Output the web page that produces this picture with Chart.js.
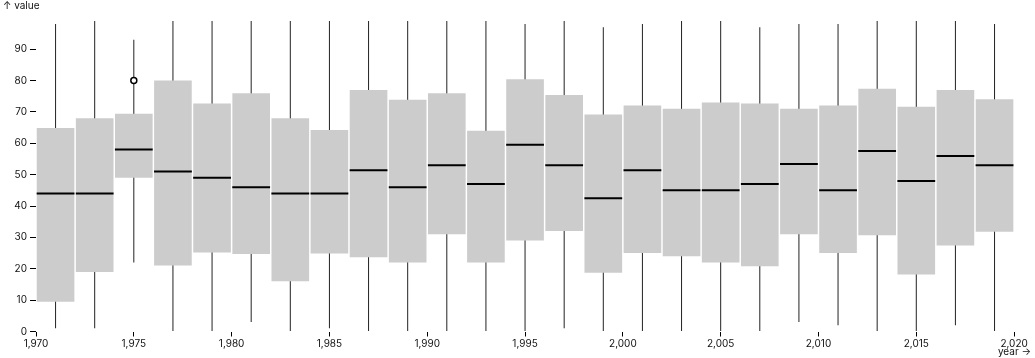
<!DOCTYPE html>
<html>
<head>
<meta charset="utf-8">
<script src="https://cdn.jsdelivr.net/npm/chart.js@4"></script>
<style>
  html, body { margin: 0; padding: 0; background: #fff; }
  #wrap { width: 1035px; height: 358px; position: relative; }
</style>
</head>
<body>
<div id="wrap"><canvas id="boxChart"></canvas></div>
<script>
// bin centers (two-year bins from 1970 to 2020)
const years = [1971, 1973, 1975, 1977, 1979, 1981, 1983, 1985, 1987, 1989, 1991, 1993, 1995,
               1997, 1999, 2001, 2003, 2005, 2007, 2009, 2011, 2013, 2015, 2017, 2019];
const whiskerLow  = [1, 1, 22, 0, 0, 3, 0, 1, 0, 0, 0, 0, 0, 1, 0, 0, 0, 0, 0, 3, 2, 0, 0, 2, 0];
const q1          = [9.5, 19, 49, 21, 25.2, 24.7, 16, 24.9, 23.7, 22, 31, 22, 29, 32, 18.7, 25, 24, 22, 20.8, 31, 25, 30.7, 18.2, 27.4, 31.8];
const median      = [44, 44, 58, 51, 49, 46, 44, 44, 51.4, 46, 53, 47, 59.5, 53, 42.5, 51.4, 45, 45, 47, 53.4, 45, 57.5, 48, 55.9, 53];
const q3          = [64.9, 68, 69.4, 80, 72.7, 75.9, 68, 64.2, 77, 73.9, 75.9, 64, 80.4, 75.4, 69.2, 72, 71, 73, 72.7, 71, 72, 77.4, 71.6, 77, 74];
const whiskerHigh = [98, 99, 93, 99, 99, 99, 99, 99, 99, 99, 99, 99, 98, 99, 97, 98, 99, 99, 97, 98, 98, 99, 99, 99, 98];
const outlierYears  = [1975];
const outlierValues = [80];

const xTicks = [1970, 1975, 1980, 1985, 1990, 1995, 2000, 2005, 2010, 2015, 2020];
const yTicks = [0, 10, 20, 30, 40, 50, 60, 70, 80, 90];

const FONT = { family: 'Inter, "Liberation Sans", sans-serif', size: 10 };

// axis labels drawn as plain text in the corners
const axisLabels = {
    id: 'axisLabels',
    afterDraw(chart) {
        const ctx = chart.ctx;
        ctx.save();
        ctx.font = '10px ' + FONT.family;
        ctx.fillStyle = '#111';
        ctx.textBaseline = 'middle';
        ctx.textAlign = 'left';
        ctx.fillText('↑ value', 3, 6);
        ctx.textAlign = 'right';
        ctx.fillText('year →', 1031, 352);
        ctx.restore();
    }
};

const ctx = document.getElementById('boxChart').getContext('2d');

new Chart(ctx, {
    type: 'bar',
    data: {
        datasets: [
            {
                // whiskers: full range, the box covers the middle
                type: 'bar',
                data: years.map((x, i) => ({ x, y: [whiskerLow[i], whiskerHigh[i]] })),
                backgroundColor: '#222',
                maxBarThickness: 1,
                grouped: false,
                order: 4
            },
            {
                type: 'bar',
                data: years.map((x, i) => ({ x, y: [q1[i], q3[i]] })),
                backgroundColor: '#cccccc',
                barPercentage: 0.962,
                categoryPercentage: 1,
                grouped: false,
                order: 3
            },
            {
                type: 'scatter',
                data: years.map((x, i) => ({ x, y: median[i] })),
                pointStyle: 'line',
                pointRadius: 18.9,
                borderColor: '#000',
                borderWidth: 2,
                order: 2
            },
            {
                type: 'scatter',
                data: outlierYears.map((x, i) => ({ x, y: outlierValues[i] })),
                pointStyle: 'circle',
                pointRadius: 3,
                backgroundColor: '#fff',
                borderColor: '#000',
                borderWidth: 1.5,
                order: 1
            }
        ]
    },
    options: {
        responsive: true,
        maintainAspectRatio: false,
        animation: false,
        layout: { padding: { top: 18, right: 18, left: 0, bottom: 0 } },
        plugins: {
            legend: { display: false },
            tooltip: { enabled: false }
        },
        scales: {
            x: {
                type: 'linear',
                min: 1970,
                max: 2020,
                offset: false,
                border: { display: false },
                grid: { offset: false, drawOnChartArea: false, drawTicks: true, tickLength: 5, color: '#000' },
                afterBuildTicks: scale => { scale.ticks = xTicks.map(v => ({ value: v })); },
                afterFit: scale => { scale.height = 26.5; },
                ticks: {
                    font: FONT,
                    color: '#111',
                    padding: 1,
                    maxRotation: 0,
                    autoSkip: false,
                    callback: v => v.toLocaleString('en-US')
                }
            },
            y: {
                min: 0,
                max: 99,
                border: { display: false },
                grid: { drawOnChartArea: false, drawTicks: true, tickLength: 6, color: '#000' },
                afterBuildTicks: scale => { scale.ticks = yTicks.map(v => ({ value: v })); },
                afterFit: scale => { scale.width = 36; },
                ticks: {
                    font: FONT,
                    color: '#111',
                    padding: 3
                }
            }
        }
    },
    plugins: [axisLabels]
});
</script>
</body>
</html>
